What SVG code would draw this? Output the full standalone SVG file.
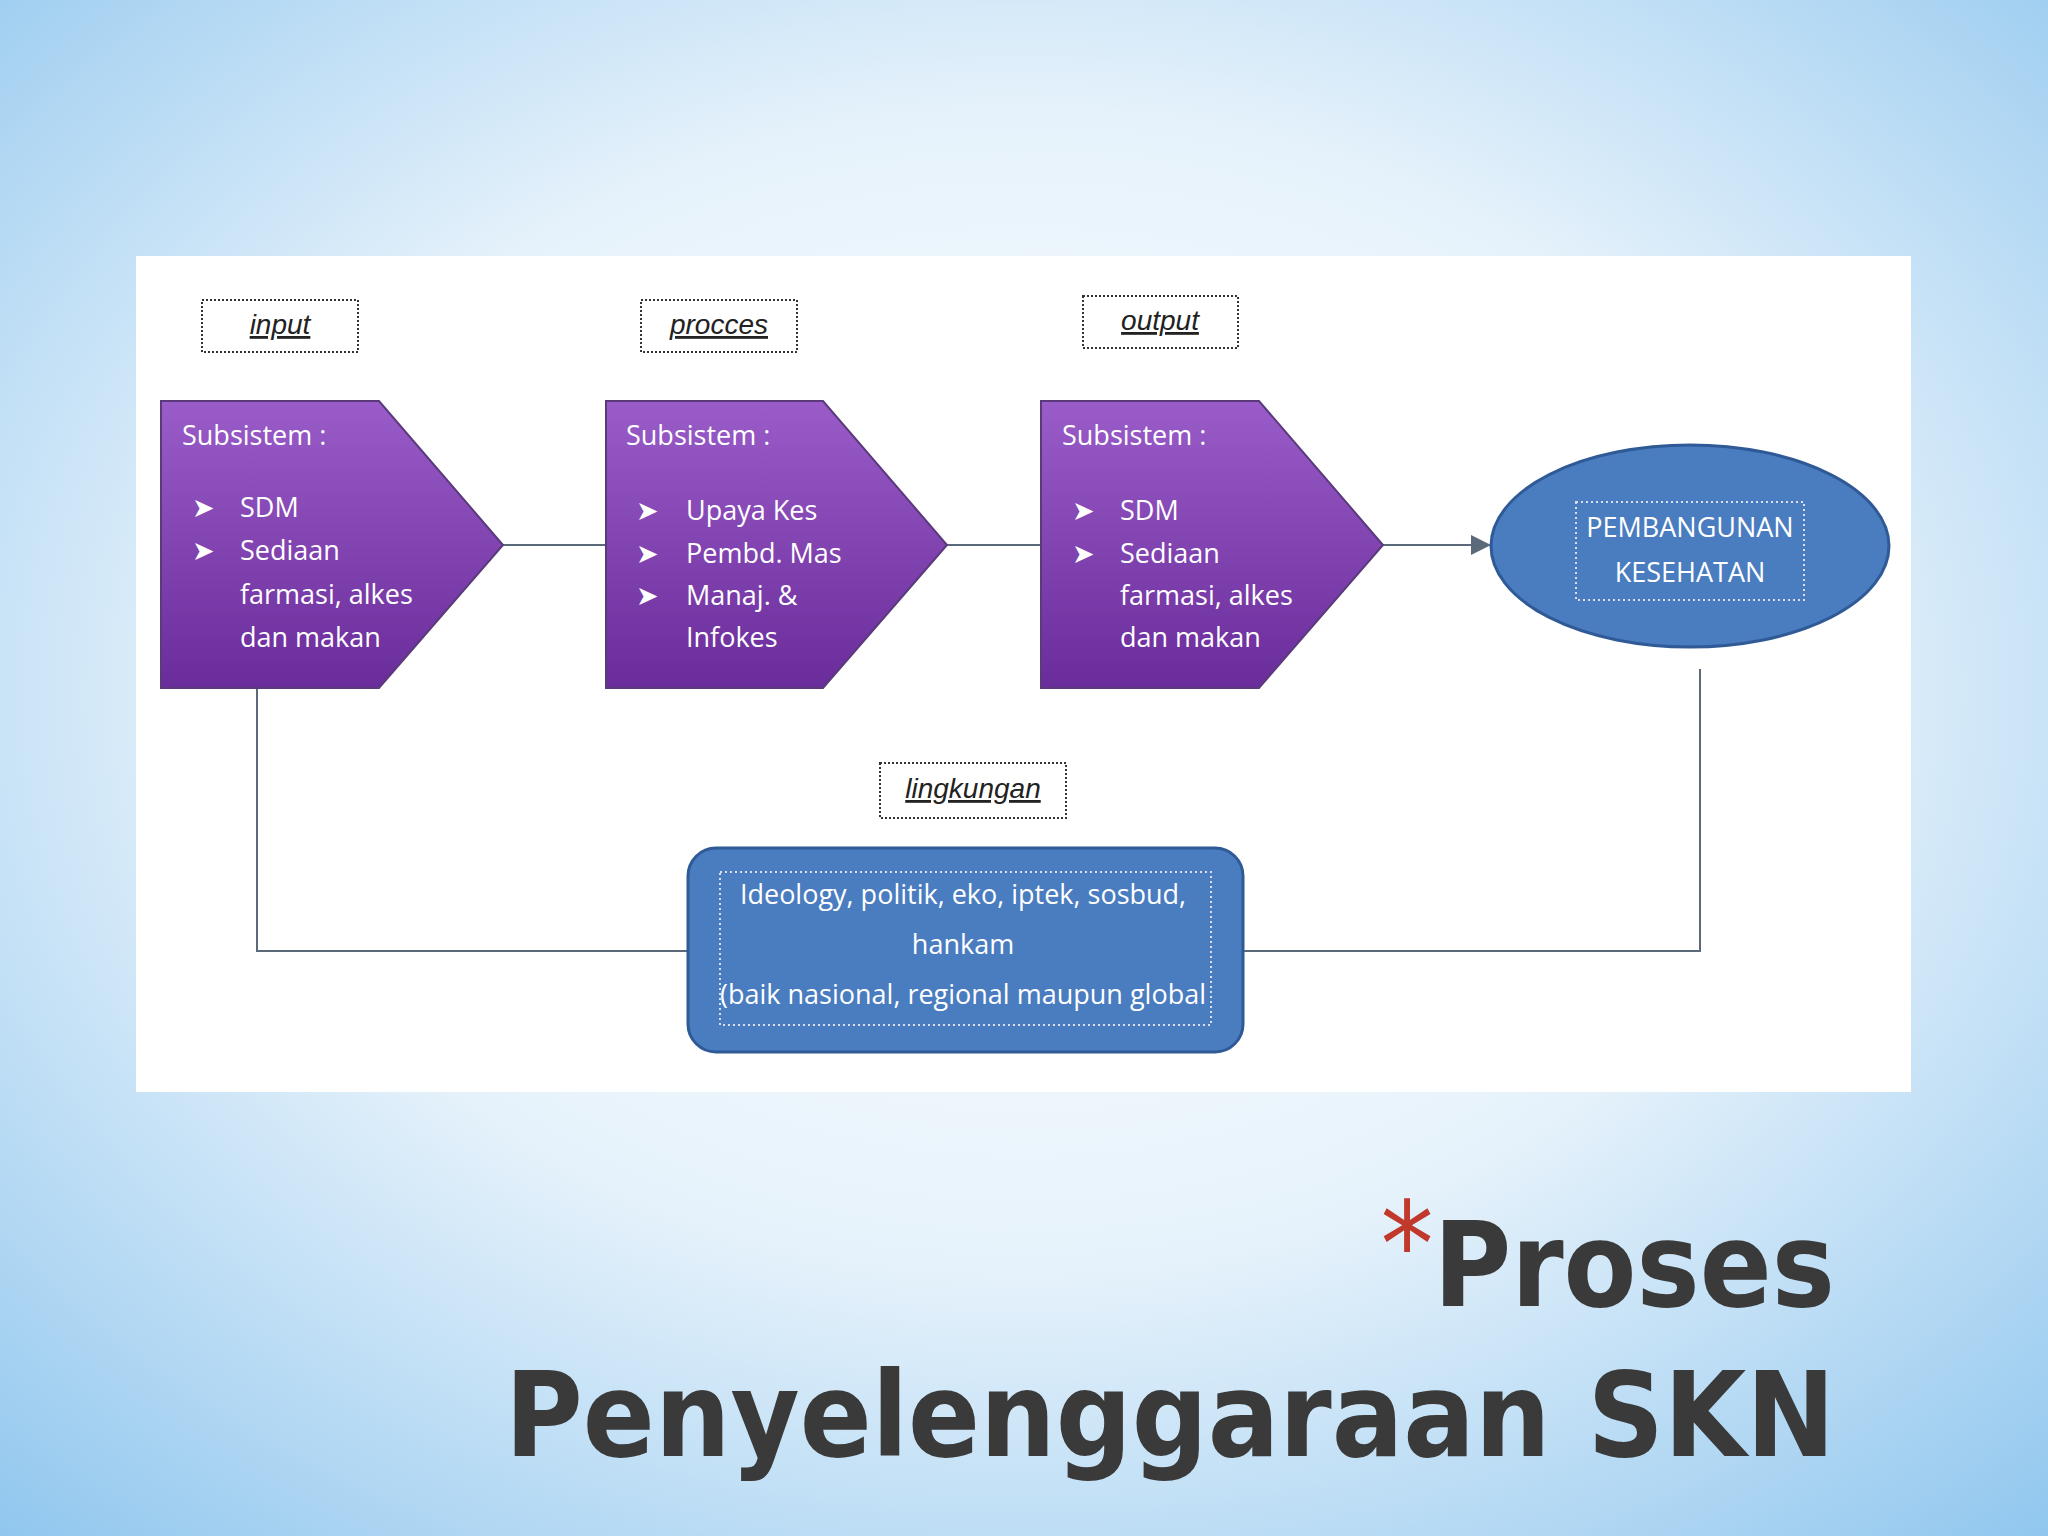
<svg xmlns="http://www.w3.org/2000/svg" width="2048" height="1536" viewBox="0 0 2048 1536">
<defs>
<radialGradient id="bg" cx="0.5" cy="0.45" r="0.75">
<stop offset="0" stop-color="#ffffff"/><stop offset="0.5" stop-color="#e6f2fb"/><stop offset="1" stop-color="#8fc6ee"/>
</radialGradient>
<linearGradient id="pur" x1="0" y1="0" x2="0" y2="1">
<stop offset="0" stop-color="#9a5cc8"/><stop offset="1" stop-color="#6a2c9a"/>
</linearGradient>
<marker id="ar" markerWidth="10" markerHeight="10" refX="9" refY="5" orient="auto"><path d="M0,0 L10,5 L0,10 z" fill="#5a6a7a"/></marker>
<style>
.lbl{fill:#fff;stroke:#333;stroke-width:2;stroke-dasharray:2 2}
.lt{font-family:"Liberation Sans",sans-serif;font-size:28px;fill:#222;text-anchor:middle;font-style:italic;text-decoration:underline}
.pent{fill:url(#pur);stroke:#5a3a7a;stroke-width:2}
.pt{font-family:"Open Sans","DejaVu Sans",sans-serif;font-size:27px;fill:#fff}
.ln{stroke:#5a6a7a;stroke-width:2;fill:none}
.title{font-family:"DejaVu Sans Condensed","DejaVu Sans",sans-serif;font-weight:bold;font-size:118px;fill:#3a3a3a;text-anchor:end}
</style>
</defs>
<rect width="2048" height="1536" fill="url(#bg)"/>
<rect x="136" y="256" width="1775" height="836" fill="#fff"/>
<g id="connectors">
<line class="ln" x1="503" y1="545" x2="606" y2="545"/>
<line class="ln" x1="947" y1="545" x2="1041" y2="545"/>
<line class="ln" x1="1383" y1="545" x2="1489" y2="545" marker-end="url(#ar)"/>
<polyline class="ln" points="257,688 257,951 688,951"/>
<polyline class="ln" points="1243,951 1700,951 1700,669"/>
</g>
<g id="label-input"><rect class="lbl" x="202" y="300" width="156" height="52"/><text class="lt" x="280" y="334">input</text></g>
<g id="label-procces"><rect class="lbl" x="641" y="300" width="156" height="52"/><text class="lt" x="719" y="334">procces</text></g>
<g id="label-output"><rect class="lbl" x="1083" y="296" width="155" height="52"/><text class="lt" x="1160" y="330">output</text></g>
<g id="label-lingkungan"><rect class="lbl" x="880" y="763" width="186" height="55"/><text class="lt" x="973" y="798">lingkungan</text></g>
<g id="node-input">
<path class="pent" d="M161,401 H379 L503,545 L379,688 H161 Z"/>
<text class="pt" x="182" y="445">Subsistem :</text>
<text class="pt" x="192" y="517">➤</text><text class="pt" x="240" y="517">SDM</text>
<text class="pt" x="192" y="560">➤</text><text class="pt" x="240" y="560">Sediaan</text>
<text class="pt" x="240" y="604">farmasi, alkes</text>
<text class="pt" x="240" y="647">dan makan</text>
</g>
<g id="node-proses">
<path class="pent" d="M606,401 H823 L947,545 L823,688 H606 Z"/>
<text class="pt" x="626" y="445">Subsistem :</text>
<text class="pt" x="636" y="520">➤</text><text class="pt" x="686" y="520">Upaya Kes</text>
<text class="pt" x="636" y="563">➤</text><text class="pt" x="686" y="563">Pembd. Mas</text>
<text class="pt" x="636" y="605">➤</text><text class="pt" x="686" y="605">Manaj. &amp;</text>
<text class="pt" x="686" y="647">Infokes</text>
</g>
<g id="node-output">
<path class="pent" d="M1041,401 H1259 L1383,545 L1259,688 H1041 Z"/>
<text class="pt" x="1062" y="445">Subsistem :</text>
<text class="pt" x="1072" y="520">➤</text><text class="pt" x="1120" y="520">SDM</text>
<text class="pt" x="1072" y="563">➤</text><text class="pt" x="1120" y="563">Sediaan</text>
<text class="pt" x="1120" y="605">farmasi, alkes</text>
<text class="pt" x="1120" y="647">dan makan</text>
</g>
<g id="node-pembangunan">
<ellipse cx="1690" cy="546" rx="199" ry="101" fill="#4a7cc0" stroke="#2f5a96" stroke-width="3"/>
<rect x="1576" y="502" width="228" height="98" fill="none" stroke="#dde" stroke-width="2" stroke-dasharray="2 3"/>
<text class="pt" x="1690" y="537" text-anchor="middle" font-size="25">PEMBANGUNAN</text>
<text class="pt" x="1690" y="582" text-anchor="middle" font-size="25">KESEHATAN</text>
</g>
<g id="node-lingkungan">
<rect x="688" y="848" width="555" height="204" rx="28" fill="#4a7cc0" stroke="#2f5a96" stroke-width="3"/>
<rect x="720" y="872" width="491" height="153" fill="none" stroke="#dde" stroke-width="2" stroke-dasharray="2 3"/>
<text class="pt" x="963" y="904" text-anchor="middle" font-size="26">Ideology, politik, eko, iptek, sosbud,</text>
<text class="pt" x="963" y="954" text-anchor="middle" font-size="26">hankam</text>
<text class="pt" x="963" y="1004" text-anchor="middle" font-size="26">(baik nasional, regional maupun global</text>
</g>
<g id="title">
<text class="title" x="1835" y="1306"><tspan fill="#c0392b" font-weight="normal" dy="-20">*</tspan><tspan dy="20">Proses</tspan></text>
<text class="title" x="1835" y="1456">Penyelenggaraan SKN</text>
</g>
</svg>
